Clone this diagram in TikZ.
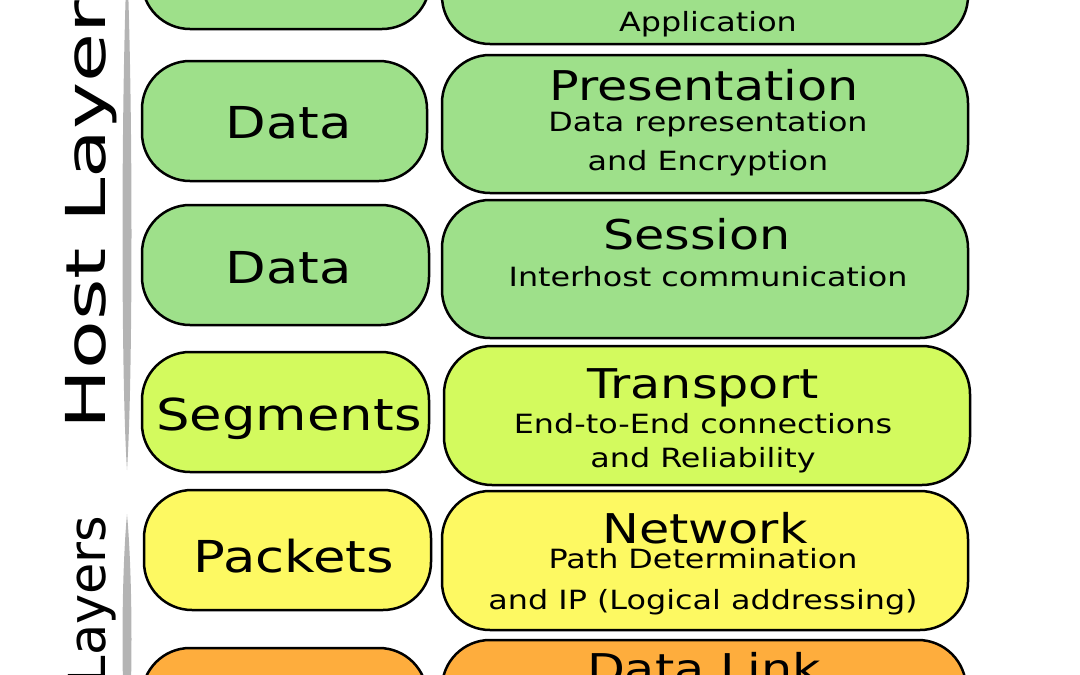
\documentclass[tikz,border=0pt]{standalone}
\usepackage{fontspec}
\setmainfont{DejaVu Sans}
\newcommand{\sx}[1]{\scalebox{1.2}[1]{#1}}
\newcommand{\sv}[1]{\scalebox{1.45}[1]{#1}}
\definecolor{cg}{HTML}{9EE08A}
\definecolor{cl}{HTML}{D3FA5E}
\definecolor{cy}{HTML}{FDF962}
\definecolor{co}{HTML}{FEAD3D}
\definecolor{bar}{HTML}{B4B4B4}
\begin{document}
\begin{tikzpicture}[x=1pt,y=-1pt,
  box/.style={draw=black,line width=2.5pt,rounded corners=48pt},
  big/.style={anchor=base,font=\fontsize{44}{44}\selectfont},
  ttl/.style={anchor=base,font=\fontsize{41}{41}\selectfont},
  sub/.style={anchor=base,font=\fontsize{26.5}{26.5}\selectfont},
  side/.style={rotate=90,font=\fontsize{55}{55}\selectfont}]
\useasboundingbox (0,0) rectangle (1080,675);
\clip (0,0) rectangle (1080,675);
% gray bars
\fill[bar] (127,-40) .. controls (133,100) and (133,380) .. (127,470) .. controls (121,380) and (121,100) .. (127,-40);
\fill[bar] (127,514) .. controls (133,580) and (133,700) .. (127,760) .. controls (121,700) and (121,580) .. (127,514);
\node[side,anchor=base west] (host) at (105,433) {\sv{Host Layers}};
\node[side,anchor=base east,font=\fontsize{51}{51}\selectfont] (media) at (105,512) {Media Layers};
% left boxes
\draw[box,fill=cg] (142,-91) rectangle (430,29);
\draw[box,fill=cg] (142,61) rectangle (427,181);
\draw[box,fill=cg] (142,205) rectangle (429,325);
\draw[box,fill=cl] (142,352) rectangle (429,472);
\draw[box,fill=cy] (144,490) rectangle (431,610);
\draw[box,fill=co] (142,648) rectangle (427,768);
% right boxes
\draw[box,fill=cg] (442,-95) rectangle (968,44);
\draw[box,fill=cg] (442,55) rectangle (968,193);
\draw[box,fill=cg] (442,200) rectangle (968,338);
\draw[box,fill=cl] (444,346) rectangle (970,485);
\draw[box,fill=cy] (442,491) rectangle (968,630);
\draw[box,fill=co] (442,640) rectangle (966,780);
% left texts
\node[big] (d2) at (289,138) {\sx{Data}};
\node[big] (d3) at (289,283) {\sx{Data}};
\node[big] (seg) at (289,430) {\sx{Segments}};
\node[big] (pk) at (294,572) {\sx{Packets}};
% right texts
\node[sub] (app) at (708,31) {\sx{Application}};
\node[ttl] (pres) at (704,100) {\sx{Presentation}};
\node[sub] (pres1) at (708,131) {\sx{Data representation}};
\node[sub] (pres2) at (708,170) {\sx{and Encryption}};
\node[ttl] (sess) at (697,249) {\sx{Session}};
\node[sub] (sess1) at (708,286) {\sx{Interhost communication}};
\node[ttl] (tr) at (703,398) {\sx{Transport}};
\node[sub] (tr1) at (703,433) {\sx{End-to-End connections}};
\node[sub] (tr2) at (703,467) {\sx{and Reliability}};
\node[ttl] (nw) at (705,543) {\sx{Network}};
\node[sub] (nw1) at (703,568) {\sx{Path Determination}};
\node[sub] (nw2) at (703,609) {\sx{and IP (Logical addressing)}};
\node[ttl] (dl) at (704,683) {\sx{Data Link}};
\end{tikzpicture}
\end{document}
